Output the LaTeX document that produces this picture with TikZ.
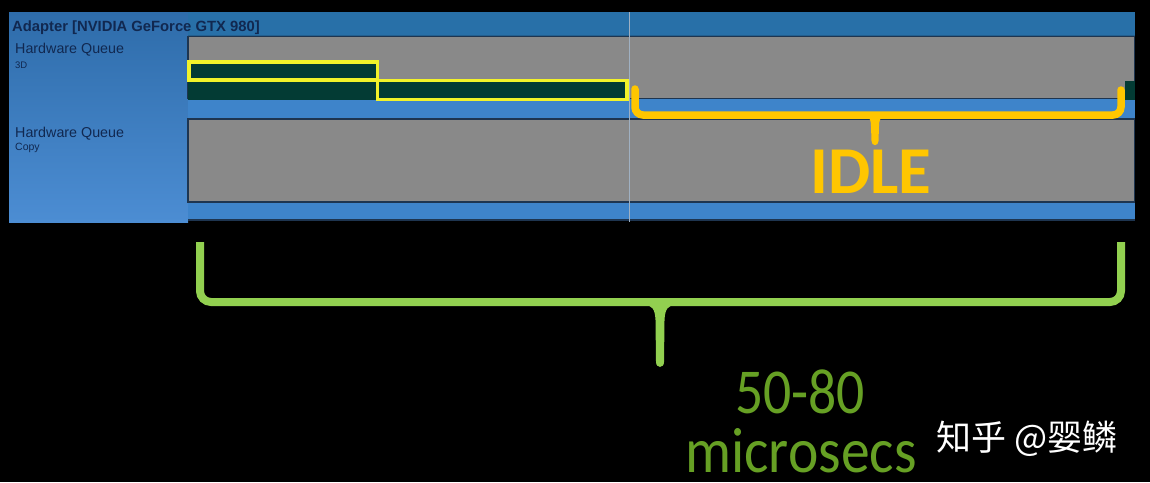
\documentclass[tikz,border=0pt]{standalone}
\usepackage{fontspec}
\setmainfont{Liberation Sans}
\newfontfamily\calfont{Carlito}
\newfontfamily\cjkfont{Noto Sans CJK SC}
\definecolor{headblue}{HTML}{2870A8}
\definecolor{stripblue}{HTML}{3E84CA}
\definecolor{coltop}{HTML}{2E6CAA}
\definecolor{colbot}{HTML}{4C8DD3}
\definecolor{lanegray}{HTML}{898989}
\definecolor{laneline}{HTML}{1E3550}
\definecolor{busygreen}{HTML}{033B34}
\definecolor{hlyellow}{HTML}{F2F22A}
\definecolor{idleyellow}{HTML}{FFC600}
\definecolor{bracegreen}{HTML}{92D050}
\definecolor{textgreen}{HTML}{66A024}
\definecolor{navytext}{HTML}{112850}
\definecolor{divline}{HTML}{9FB0C2}
\tikzset{
  lane/.style={fill=lanegray, draw=laneline, line width=1.3pt},
  busy/.style={fill=busygreen},
  hlbox/.style={draw=hlyellow, line width=3.5pt},
  idlebrace/.style={draw=idleyellow, line width=7.5pt, line cap=round, rounded corners=8pt},
  greenbrace/.style={draw=bracegreen, line width=8pt, rounded corners=11pt},
  paneltext/.style={inner sep=0pt, text=navytext},
  bigtext/.style={inner sep=0pt, anchor=base, text depth=0pt},
}
\begin{document}
\begin{tikzpicture}[x=1pt,y=-1pt]
% background
\fill[black] (0,0) rectangle (1150,482);
\useasboundingbox (0,0) rectangle (1150,482);
% left label column
\shade[top color=coltop, bottom color=colbot] (9,12) rectangle (188,222);
% right section
\fill[stripblue] (188,35) rectangle (1135,219.5);
\fill[headblue] (188,12) rectangle (1135,35.5);
\fill[headblue!85!black] (188,35) rectangle (1135,36.5);
% lanes
\draw[lane] (188,36.8) rectangle (1134.5,98.5);
\draw[lane] (188,119) rectangle (1134.5,202);
\fill[laneline] (188,218.5) rectangle (1135,220.5);
% busy bars
\fill[busy] (188,62) rectangle (377,100);
\fill[busy] (377,80) rectangle (628,100);
\fill[busy] (1125,81) rectangle (1135,100);
% divider
\draw[divline, line width=1pt] (629,12) -- (629,222);
% highlight boxes
\draw[hlbox] (189,62) rectangle (377.5,79.8);
\draw[hlbox] (377.5,80.3) rectangle (627,99.6);
% texts in panel
\node[paneltext, anchor=base west, font=\bfseries\fontsize{14.8}{16}\selectfont] (adapter) at (12,31) {Adapter [NVIDIA GeForce GTX 980]};
\node[paneltext, anchor=base west, font=\fontsize{14.3}{16}\selectfont] (hq1) at (15,53) {Hardware Queue};
\node[paneltext, anchor=base west, font=\fontsize{9.5}{10}\selectfont] (q3d) at (15,68) {3D};
\node[paneltext, anchor=base west, font=\fontsize{14.3}{16}\selectfont] (hq2) at (15,137) {Hardware Queue};
\node[paneltext, anchor=base west, font=\fontsize{10.5}{12}\selectfont] (qcopy) at (15,150.5) {Copy};
% idle brace
\coordinate (idleL) at (635,89);
\coordinate (idleR) at (1121,90);
\coordinate (idleM) at (875,115);
\draw[idlebrace] (idleL) -- (635,115) -- (1121,115) -- (idleR);
\fill[idleyellow] (866,117) .. controls (870,117) and (871,121) .. (871,126)
  -- (871.5,141) .. controls (871.5,146.5) and (878.5,146.5) .. (878.5,141)
  -- (879,126) .. controls (879,121) and (880,117) .. (884,117) -- (884,113) -- (866,113) -- cycle;
\node[bigtext, text=idleyellow, font=\calfont\bfseries\fontsize{67}{70}\selectfont] (idle) at (871,193) {IDLE};
% green brace
\coordinate (gL) at (200,242);
\coordinate (gR) at (1121,242);
\draw[greenbrace] (gL) -- (200,302) -- (1121,302) -- (gR);
\fill[bracegreen] (644,305) .. controls (652,305) and (655,309) .. (655.5,320)
  -- (656,362) .. controls (656,368.5) and (664,368.5) .. (664,362)
  -- (664.5,320) .. controls (665,309) and (668,305) .. (676,305)
  -- (676,298) .. controls (668,298) and (664,300) .. (660,305)
  .. controls (656,300) and (652,298) .. (644,298) -- cycle;
% duration text
\node[bigtext, text height=41pt, text=textgreen, font=\calfont\fontsize{64}{66}\selectfont] (dur1) at (800,413) {\scalebox{0.87}[1]{50-80}};
\node[bigtext, text height=31pt, text=textgreen, font=\calfont\fontsize{64}{66}\selectfont] (dur2) at (801,472) {\scalebox{0.9}[1]{microsecs}};
% watermark
\node[inner sep=0pt, anchor=base west, text depth=0pt, text=white, font=\cjkfont\fontsize{35}{38}\selectfont] (wm) at (936,450) {知乎 @婴鳞};
\end{tikzpicture}
\end{document}
